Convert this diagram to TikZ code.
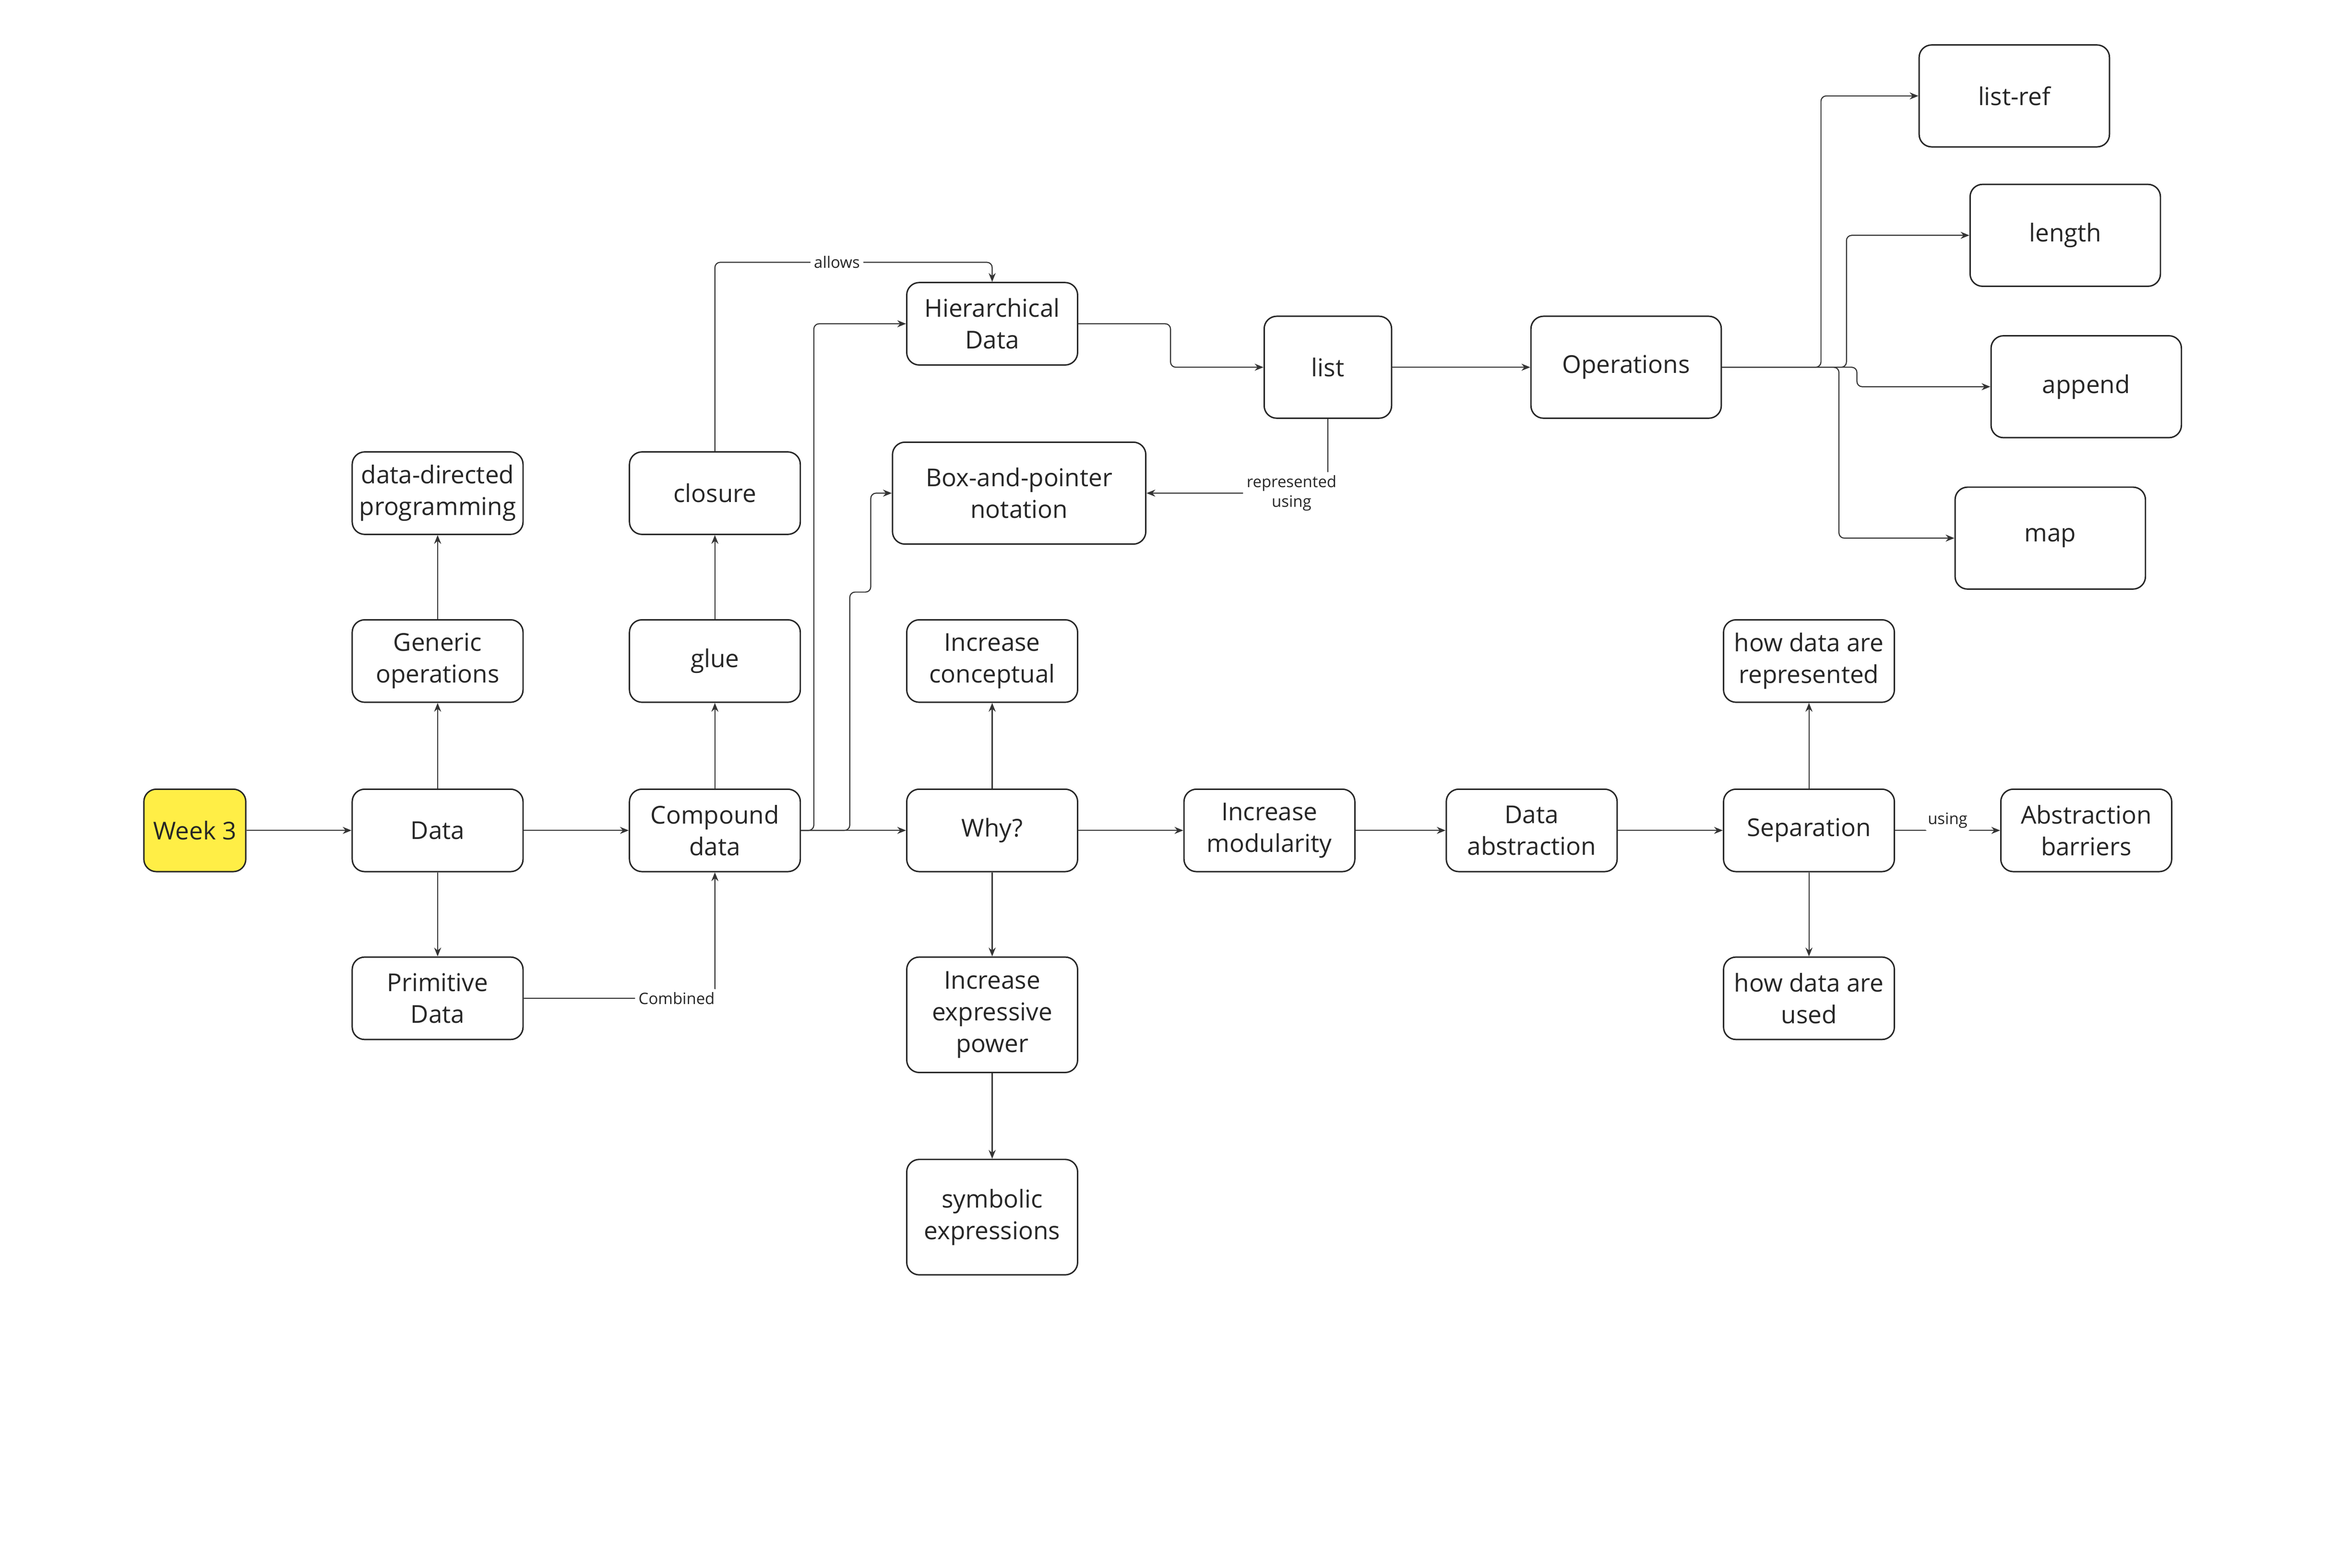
\documentclass[tikz,border=0pt]{standalone}
\usepackage{fontspec}
\setmainfont{Open Sans}
\usetikzlibrary{arrows.meta}
\begin{document}
\begin{tikzpicture}[x=0.03cm,y=-0.03cm,
  box/.style={draw=black!85,line width=0.8pt,rounded corners=0.25cm,align=center,inner sep=0pt,font=\fontsize{14}{18}\selectfont,text=black!85},
  bx/.style={box,minimum width=3.42cm,minimum height=1.65cm},
  conn/.style={draw=black!80,line width=0.6pt,-{Stealth[length=5pt,width=4pt]},rounded corners=3pt},
  lbl/.style={fill=white,font=\fontsize{9}{11}\selectfont,text=black!85,inner sep=2pt,align=center}]
\useasboundingbox[fill=white] (0,0) rectangle (1568,1046);
\node[box,fill=yellow!80!orange!60,fill={rgb,255:red,255;green,238;blue,70},minimum width=2.04cm,minimum height=1.65cm] (w3) at (130,554) {Week 3};
\node[bx] (data) at (292,554) {Data};
\node[bx] (gen) at (292,441) {Generic\\operations};
\node[bx] (ddp) at (292,329) {data-directed\\programming};
\node[bx] (prim) at (292,666) {Primitive\\Data};
\node[bx] (comp) at (477,554) {Compound\\data};
\node[bx] (glue) at (477,441) {glue};
\node[bx] (clo) at (477,329) {closure};
\node[bx] (hier) at (662,216) {Hierarchical\\Data};
\node[box,minimum width=2.55cm,minimum height=2.04cm] (list) at (886,245) {list};
\node[box,minimum width=3.81cm,minimum height=2.04cm] (ops) at (1085,245) {Operations};
\node[box,minimum width=3.81cm,minimum height=2.04cm] (lref) at (1344,64) {list-ref};
\node[box,minimum width=3.81cm,minimum height=2.04cm] (len) at (1378,157) {length};
\node[box,minimum width=3.81cm,minimum height=2.04cm] (app) at (1392,258) {append};
\node[box,minimum width=3.81cm,minimum height=2.04cm] (map) at (1368,359) {map};
\node[box,minimum width=5.07cm,minimum height=2.04cm] (bp) at (680,329) {Box-and-pointer\\notation};
\node[bx] (conc) at (662,441) {Increase\\conceptual};
\node[bx] (why) at (662,554) {Why?};
\node[bx,minimum height=2.31cm] (expr) at (662,677) {Increase\\expressive\\power};
\node[bx,minimum height=2.31cm] (sym) at (662,812) {symbolic\\expressions};
\node[bx] (mod) at (847,554) {Increase\\modularity};
\node[bx] (dabs) at (1022,554) {Data\\abstraction};
\node[bx] (sep) at (1207,554) {Separation};
\node[bx] (rep) at (1207,441) {how data are\\represented};
\node[bx] (used) at (1207,666) {how data are\\used};
\node[bx] (ab) at (1392,554) {Abstraction\\barriers};

\draw[conn] (w3) -- (data);
\draw[conn] (data) -- (gen);
\draw[conn] (gen) -- (ddp);
\draw[conn] (data) -- (prim);
\draw[conn] (data) -- (comp);
\draw[conn] (prim.east) -| node[lbl,pos=0.4]{Combined} (comp.south);
\draw[conn] (comp) -- (glue);
\draw[conn] (glue) -- (clo);
\draw[conn] (clo.north) |- node[lbl,pos=0.72]{allows} (662,175) -- (hier.north);
\draw[conn] (comp.east) -- (543,554) |- (hier.west);
\draw[conn] (comp.east) -- (567,554) -- (567,395) -- (581,395) |- (bp.west);
\draw[conn] (comp) -- (why);
\draw[conn] (hier.east) -- (781,216) |- (list.west);
\draw[conn] (list.south) |- node[lbl,pos=0.6]{represented\\using} (bp.east);
\draw[conn] (list) -- (ops);
\draw[conn] (ops.east) -- (1215,245) |- (lref.west);
\draw[conn] (ops.east) -- (1232,245) |- (len.west);
\draw[conn] (ops.east) -- (1239,245) |- (app.west);
\draw[conn] (ops.east) -- (1227,245) |- (map.west);
\draw[conn] (why) -- (conc);
\draw[conn] (why) -- (expr);
\draw[conn] (expr) -- (sym);
\draw[conn] (why) -- (mod);
\draw[conn] (mod) -- (dabs);
\draw[conn] (dabs) -- (sep);
\draw[conn] (sep) -- (rep);
\draw[conn] (sep) -- (used);
\draw[conn] (sep) -- node[lbl,yshift=0.2cm]{using} (ab);
\end{tikzpicture}
\end{document}
